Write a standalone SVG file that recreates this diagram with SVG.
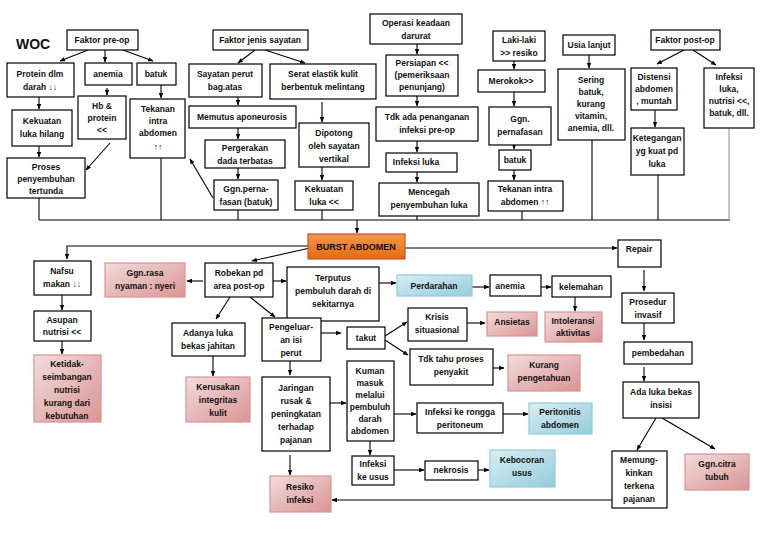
<svg xmlns="http://www.w3.org/2000/svg" width="768" height="543" viewBox="0 0 768 543">
<defs>
<linearGradient id="pk" x1="0" y1="0" x2="1" y2="1"><stop offset="0" stop-color="#f2dcdb"/><stop offset="1" stop-color="#d99594"/></linearGradient>
<linearGradient id="bl" x1="0" y1="0" x2="1" y2="1"><stop offset="0" stop-color="#dbeef3"/><stop offset="1" stop-color="#92cddc"/></linearGradient>
<linearGradient id="or" x1="0" y1="0" x2="0" y2="1"><stop offset="0" stop-color="#f79646"/><stop offset="1" stop-color="#e36c09"/></linearGradient>
<marker id="a" viewBox="0 0 10 10" refX="9" refY="5" markerWidth="5" markerHeight="5" orient="auto"><path d="M0,1 L10,5 L0,9 z" fill="#000"/></marker>
<style>
rect{fill:#fff;stroke:#000;stroke-width:1.2}
rect.p{fill:url(#pk);stroke:#d99594}
rect.b{fill:url(#bl);stroke:#92cddc}
rect.o{fill:url(#or);stroke:#c0504d}
text{font-family:"Liberation Sans",Arial,sans-serif;font-size:8.5px;font-weight:bold;fill:#111;text-anchor:middle}
#conn line,#conn polyline{stroke:#000;stroke-width:1.1;fill:none}
#conn .m{marker-end:url(#a)}
</style>
</defs>
<text x="16" y="49" style="font-size:14px;text-anchor:start">WOC</text>

<g id="conn">
<polyline points="39,220 730,220"/>
<line x1="39" y1="198" x2="39" y2="220"/>
<line x1="161" y1="158" x2="161" y2="220"/>
<line x1="238" y1="210" x2="238" y2="220"/>
<line x1="322" y1="210" x2="322" y2="220"/>
<line x1="417" y1="216" x2="417" y2="220"/>
<line x1="522" y1="211" x2="522" y2="220"/>
<line x1="592" y1="140" x2="592" y2="220"/>
<line x1="658" y1="175" x2="658" y2="220"/>
<line x1="729" y1="128" x2="729" y2="220" style="stroke:#999"/>
<line class="m" x1="357" y1="220" x2="357" y2="233"/>
<line class="m" x1="88" y1="50" x2="60" y2="61"/>
<line class="m" x1="105" y1="50" x2="105" y2="62"/>
<line class="m" x1="123" y1="50" x2="153" y2="61"/>
<line class="m" x1="39" y1="97" x2="39" y2="109"/>
<line class="m" x1="39" y1="146" x2="39" y2="157"/>
<line class="m" x1="107" y1="88" x2="107" y2="95"/>
<line class="m" x1="110" y1="143" x2="86" y2="170"/>
<line class="m" x1="161" y1="85" x2="161" y2="98"/>
<line class="m" x1="213" y1="198" x2="190" y2="159"/>
<line class="m" x1="255" y1="50" x2="238" y2="63"/>
<line class="m" x1="265" y1="50" x2="305" y2="63"/>
<line class="m" x1="238" y1="97" x2="238" y2="105"/>
<line class="m" x1="238" y1="128" x2="238" y2="139"/>
<line class="m" x1="238" y1="168" x2="238" y2="179"/>
<line class="m" x1="322" y1="102" x2="322" y2="122"/>
<line class="m" x1="322" y1="167" x2="322" y2="180"/>
<line class="m" x1="417" y1="44" x2="417" y2="54"/>
<line class="m" x1="417" y1="96" x2="417" y2="106"/>
<line class="m" x1="417" y1="141" x2="417" y2="152"/>
<line class="m" x1="417" y1="172" x2="417" y2="182"/>
<line class="m" x1="514" y1="61" x2="514" y2="69"/>
<line class="m" x1="514" y1="92" x2="514" y2="106"/>
<line class="m" x1="514" y1="145" x2="514" y2="149"/>
<line class="m" x1="514" y1="170" x2="514" y2="180"/>
<line class="m" x1="589" y1="55" x2="589" y2="68"/>
<line class="m" x1="684" y1="50" x2="657" y2="64"/>
<line class="m" x1="693" y1="50" x2="716" y2="65"/>
<line class="m" x1="655" y1="110" x2="655" y2="127"/>
<polyline class="m" points="308,246 67,246 67,259"/>
<line class="m" x1="310" y1="248" x2="252" y2="261"/>
<line class="m" x1="405" y1="248" x2="617" y2="248"/>
<line class="m" x1="203" y1="281" x2="187" y2="281"/>
<line class="m" x1="273" y1="281" x2="286" y2="281"/>
<line class="m" x1="62" y1="295" x2="62" y2="310"/>
<line class="m" x1="62" y1="341" x2="62" y2="354"/>
<line class="m" x1="230" y1="297" x2="216" y2="319"/>
<line class="m" x1="250" y1="297" x2="275" y2="317"/>
<line class="m" x1="321" y1="333" x2="341" y2="333"/>
<line class="m" x1="213" y1="356" x2="213" y2="376"/>
<line class="m" x1="290" y1="361" x2="290" y2="375"/>
<line class="m" x1="330" y1="403" x2="346" y2="403"/>
<line class="m" x1="370" y1="441" x2="370" y2="455"/>
<line class="m" x1="290" y1="455" x2="290" y2="475"/>
<polyline class="m" points="612,500 332,500"/>
<line class="m" x1="379" y1="283" x2="396" y2="283"/>
<line class="m" x1="472" y1="287" x2="489" y2="287"/>
<line class="m" x1="541" y1="287" x2="551" y2="287"/>
<line class="m" x1="575" y1="297" x2="575" y2="311"/>
<line class="m" x1="385" y1="336" x2="407" y2="322"/>
<line class="m" x1="385" y1="340" x2="408" y2="355"/>
<line class="m" x1="467" y1="323" x2="485" y2="323"/>
<line class="m" x1="493" y1="368" x2="504" y2="368"/>
<line class="m" x1="394" y1="414" x2="416" y2="414"/>
<line class="m" x1="503" y1="414" x2="528" y2="414"/>
<line class="m" x1="394" y1="470" x2="424" y2="470"/>
<line class="m" x1="478" y1="470" x2="489" y2="470"/>
<line class="m" x1="644" y1="270" x2="644" y2="291"/>
<line class="m" x1="644" y1="323" x2="644" y2="340"/>
<line class="m" x1="644" y1="367" x2="644" y2="381"/>
<line class="m" x1="656" y1="418" x2="637" y2="450"/>
<line class="m" x1="662" y1="418" x2="715" y2="449"/>
</g>

<g id="n_preop"><rect x="67" y="30" width="71" height="20"/><text x="102" y="43">Faktor pre-op</text></g>
<g id="n_protein"><rect x="7" y="63" width="67" height="34"/><text x="40" y="77">Protein dlm</text><text x="40" y="90">darah ↓↓</text></g>
<g id="n_anemia1"><rect x="85" y="63" width="47" height="22"/><text x="108" y="77">anemia</text></g>
<g id="n_batuk1"><rect x="137" y="63" width="39" height="22"/><text x="156" y="77">batuk</text></g>
<g id="n_hb"><rect x="78" y="96" width="48" height="43"/><text x="102" y="109">Hb &amp;</text><text x="102" y="121">protein</text><text x="102" y="133">&lt;&lt;</text></g>
<g id="n_tekanan1"><rect x="130" y="99" width="55" height="59"/><text x="158" y="112">Tekanan</text><text x="158" y="124">intra</text><text x="158" y="136">abdomen</text><text x="158" y="150">↑↑</text></g>
<g id="n_kekuatan1"><rect x="12" y="110" width="60" height="36"/><text x="42" y="124">Kekuatan</text><text x="42" y="137">luka hilang</text></g>
<g id="n_proses"><rect x="7" y="158" width="78" height="40"/><text x="46" y="170">Proses</text><text x="46" y="182">penyembuhan</text><text x="46" y="194">tertunda</text></g>
<g id="n_jenis"><rect x="213" y="30" width="95" height="20"/><text x="260" y="43">Faktor jenis sayatan</text></g>
<g id="n_sayatan"><rect x="189" y="64" width="73" height="33"/><text x="225" y="77">Sayatan perut</text><text x="225" y="90">bag.atas</text></g>
<g id="n_serat"><rect x="270" y="64" width="106" height="35"/><text x="323" y="77">Serat elastik kulit</text><text x="323" y="90">berbentuk melintang</text></g>
<g id="n_memutus"><rect x="189" y="106" width="107" height="22"/><text x="242" y="120">Memutus aponeurosis</text></g>
<g id="n_gerak"><rect x="205" y="140" width="80" height="28"/><text x="245" y="151">Pergerakan</text><text x="245" y="164">dada terbatas</text></g>
<g id="n_ggn1"><rect x="214" y="180" width="64" height="30"/><text x="246" y="192">Ggn.perna-</text><text x="246" y="205">fasan (batuk)</text></g>
<g id="n_dipotong"><rect x="299" y="123" width="70" height="44"/><text x="334" y="136">Dipotong</text><text x="334" y="149">oleh sayatan</text><text x="334" y="162">vertikal</text></g>
<g id="n_kekuatan2"><rect x="295" y="181" width="58" height="29"/><text x="324" y="192">Kekuatan</text><text x="324" y="205">luka &lt;&lt;</text></g>
<g id="n_operasi"><rect x="370" y="14" width="92" height="30"/><text x="416" y="26">Operasi keadaan</text><text x="416" y="39">darurat</text></g>
<g id="n_persiapan"><rect x="386" y="55" width="72" height="41"/><text x="422" y="66">Persiapan &lt;&lt;</text><text x="422" y="78">(pemeriksaan</text><text x="422" y="90">penunjang)</text></g>
<g id="n_tdkada"><rect x="376" y="107" width="102" height="34"/><text x="427" y="120">Tdk ada penanganan</text><text x="427" y="133">infeksi pre-op</text></g>
<g id="n_infeksiluka"><rect x="386" y="153" width="71" height="19"/><text x="416" y="165">Infeksi luka</text></g>
<g id="n_mencegah"><rect x="379" y="183" width="100" height="33"/><text x="429" y="195">Mencegah</text><text x="429" y="208">penyembuhan luka</text></g>
<g id="n_laki"><rect x="493" y="31" width="52" height="30"/><text x="519" y="43">Laki-laki</text><text x="519" y="56">&gt;&gt; resiko</text></g>
<g id="n_merokok"><rect x="478" y="70" width="67" height="22"/><text x="511" y="84">Merokok&gt;&gt;</text></g>
<g id="n_ggn2"><rect x="489" y="107" width="62" height="38"/><text x="520" y="122">Ggn.</text><text x="520" y="135">pernafasan</text></g>
<g id="n_batuk2"><rect x="499" y="150" width="32" height="20"/><text x="515" y="163">batuk</text></g>
<g id="n_tekanan2"><rect x="488" y="181" width="75" height="30"/><text x="525" y="192">Tekanan intra</text><text x="525" y="205">abdomen ↑↑</text></g>
<g id="n_usia"><rect x="563" y="35" width="52" height="20"/><text x="589" y="48">Usia lanjut</text></g>
<g id="n_sering"><rect x="558" y="69" width="67" height="71"/><text x="591" y="83">Sering</text><text x="591" y="95">batuk,</text><text x="591" y="107">kurang</text><text x="591" y="119">vitamin,</text><text x="591" y="131">anemia, dll.</text></g>
<g id="n_postop"><rect x="651" y="30" width="69" height="20"/><text x="685" y="43">Faktor post-op</text></g>
<g id="n_distensi"><rect x="631" y="68" width="46" height="42"/><text x="654" y="80">Distensi</text><text x="654" y="92">abdomen</text><text x="654" y="104">, muntah</text></g>
<g id="n_infeksi2"><rect x="704" y="68" width="50" height="60"/><text x="729" y="80">Infeksi</text><text x="729" y="92">luka,</text><text x="729" y="104">nutrisi &lt;&lt;,</text><text x="729" y="116">batuk, dll.</text></g>
<g id="n_ketegangan"><rect x="631" y="128" width="53" height="47"/><text x="657" y="141">Ketegangan</text><text x="657" y="154">yg kuat pd</text><text x="657" y="167">luka</text></g>

<g id="n_burst"><rect class="o" x="308" y="234" width="97" height="25"/><text x="356" y="250" style="font-size:9px">BURST ABDOMEN</text></g>
<g id="n_nafsu"><rect x="34" y="261" width="57" height="34"/><text x="62" y="274">Nafsu</text><text x="62" y="287">makan ↓↓</text></g>
<g id="n_asupan"><rect x="34" y="311" width="57" height="30"/><text x="62" y="323">Asupan</text><text x="62" y="335">nutrisi &lt;&lt;</text></g>
<g id="n_ketidak"><rect class="p" x="34" y="355" width="67" height="67"/><text x="67" y="367">Ketidak-</text><text x="67" y="380">seimbangan</text><text x="67" y="393">nutrisi</text><text x="67" y="406">kurang dari</text><text x="67" y="419">kebutuhan</text></g>
<g id="n_nyeri"><rect class="p" x="105" y="263" width="80" height="34"/><text x="145" y="276">Ggn.rasa</text><text x="145" y="289">nyaman : nyeri</text></g>
<g id="n_robekan"><rect x="205" y="263" width="68" height="34"/><text x="239" y="276">Robekan pd</text><text x="239" y="289">area post-op</text></g>
<g id="n_terputus"><rect x="287" y="267" width="92" height="54"/><text x="333" y="281">Terputus</text><text x="333" y="294">pembuluh darah di</text><text x="333" y="307">sekitarnya</text></g>
<g id="n_adanya"><rect x="172" y="323" width="73" height="33"/><text x="208" y="336">Adanya luka</text><text x="208" y="349">bekas jahitan</text></g>
<g id="n_pengeluaran"><rect x="262" y="318" width="59" height="43"/><text x="291" y="330">Pengeluar-</text><text x="291" y="343">an isi</text><text x="291" y="356">perut</text></g>
<g id="n_takut"><rect x="347" y="327" width="38" height="22"/><text x="366" y="341">takut</text></g>
<g id="n_kerusakan"><rect class="p" x="186" y="377" width="64" height="45"/><text x="218" y="390">Kerusakan</text><text x="218" y="403">integritas</text><text x="218" y="416">kulit</text></g>
<g id="n_jaringan"><rect x="262" y="377" width="68" height="74"/><text x="296" y="391">Jaringan</text><text x="296" y="404">rusak &amp;</text><text x="296" y="417">peningkatan</text><text x="296" y="430">terhadap</text><text x="296" y="443">pajanan</text></g>
<g id="n_kuman"><rect x="347" y="361" width="47" height="80"/><text x="370" y="374">Kuman</text><text x="370" y="386">masuk</text><text x="370" y="398">melalui</text><text x="370" y="410">pembuluh</text><text x="370" y="422">darah</text><text x="370" y="434">abdomen</text></g>
<g id="n_infusus"><rect x="352" y="456" width="42" height="29"/><text x="373" y="467">Infeksi</text><text x="373" y="480">ke usus</text></g>
<g id="n_resiko"><rect class="p" x="270" y="476" width="61" height="36"/><text x="300" y="490">Resiko</text><text x="300" y="503">infeksi</text></g>
<g id="n_perdarahan"><rect class="b" x="397" y="275" width="75" height="21"/><text x="434" y="289">Perdarahan</text></g>
<g id="n_anemia2"><rect x="490" y="275" width="51" height="21"/><text x="510" y="289">anemia</text></g>
<g id="n_kelemahan"><rect x="552" y="276" width="59" height="21"/><text x="581" y="290">kelemahan</text></g>
<g id="n_intoleransi"><rect class="p" x="545" y="312" width="57" height="30"/><text x="573" y="324">Intoleransi</text><text x="573" y="336">aktivitas</text></g>
<g id="n_krisis"><rect x="408" y="308" width="59" height="33"/><text x="437" y="320">Krisis</text><text x="437" y="333">situasional</text></g>
<g id="n_ansietas"><rect class="p" x="487" y="312" width="50" height="24"/><text x="512" y="325">Ansietas</text></g>
<g id="n_tdktahu"><rect x="410" y="349" width="83" height="36"/><text x="451" y="362">Tdk tahu proses</text><text x="451" y="375">penyakit</text></g>
<g id="n_kurang"><rect class="p" x="508" y="355" width="72" height="36"/><text x="544" y="368">Kurang</text><text x="544" y="381">pengetahuan</text></g>
<g id="n_rongga"><rect x="417" y="403" width="86" height="30"/><text x="460" y="415">Infeksi ke rongga</text><text x="460" y="428">peritoneum</text></g>
<g id="n_peritonitis"><rect class="b" x="529" y="403" width="63" height="31"/><text x="560" y="415">Peritonitis</text><text x="560" y="428">abdomen</text></g>
<g id="n_nekrosis"><rect x="425" y="461" width="53" height="19"/><text x="451" y="473">nekrosis</text></g>
<g id="n_kebocoran"><rect class="b" x="490" y="450" width="65" height="37"/><text x="522" y="463">Kebocoran</text><text x="522" y="476">usus</text></g>
<g id="n_repair"><rect x="618" y="240" width="43" height="27"/><text x="639" y="252">Repair</text></g>
<g id="n_prosedur"><rect x="622" y="293" width="52" height="30"/><text x="648" y="305">Prosedur</text><text x="648" y="318">invasif</text></g>
<g id="n_pembedahan"><rect x="624" y="342" width="68" height="22"/><text x="658" y="356">pembedahan</text></g>
<g id="n_adaluka"><rect x="623" y="382" width="76" height="36"/><text x="661" y="395">Ada luka bekas</text><text x="661" y="408">insisi</text></g>
<g id="n_memungkinkan"><rect x="612" y="451" width="55" height="57"/><text x="639" y="463">Memung-</text><text x="639" y="476">kinkan</text><text x="639" y="489">terkena</text><text x="639" y="502">pajanan</text></g>
<g id="n_citra"><rect class="p" x="685" y="454" width="64" height="36"/><text x="717" y="467">Ggn.citra</text><text x="717" y="480">tubuh</text></g>
</svg>
